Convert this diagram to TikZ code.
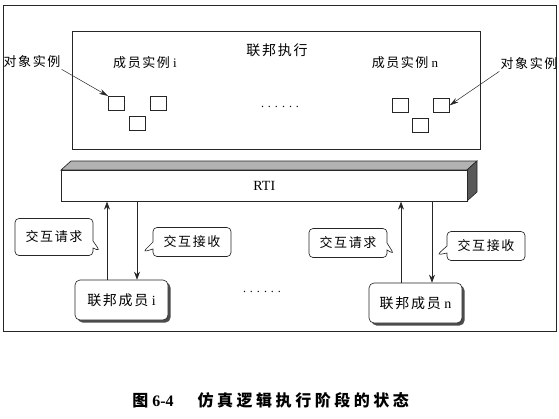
\documentclass[tikz,border=0pt]{standalone}
\usepackage{fontspec}
\setmainfont{Liberation Serif}
\newfontfamily\cjk[LetterSpace=12]{Noto Sans CJK SC}
\newfontfamily\cjkbig[LetterSpace=12]{Noto Sans CJK SC}
\newfontfamily\cjkcap[LetterSpace=22]{Noto Sans CJK SC}
\usetikzlibrary{shapes.callouts,shadows,arrows.meta}
\begin{document}
\begin{tikzpicture}[x=1pt,y=-1pt,
  line width=0.65pt, draw=black!85,
  lbl/.style={font=\fontsize{13}{15}\selectfont, inner sep=1pt},
  inst/.style={draw=black!85, minimum width=16pt, minimum height=14pt, inner sep=0pt, anchor=north west},
  bubble/.style={rectangle callout, draw=black!85, rounded corners=4pt, fill=white,
    minimum width=78pt, minimum height=29pt, inner sep=2pt, callout pointer width=7pt,
    font=\fontsize{13}{15}\selectfont},
  member/.style={draw=black!85, rounded corners=5pt, fill=white, minimum width=93pt, minimum height=40pt,
    font=\fontsize{14}{16}\selectfont,
    drop shadow={shadow xshift=2.5pt, shadow yshift=-2.5pt, fill=black!70, opacity=1}},
  flow/.style={-{Stealth[length=8pt,width=6pt]}, draw=black!85},
  point/.style={-{Stealth[length=9pt,width=5pt]}, draw=black!85, line width=0.5pt},
  dotrow/.style={font=\fontsize{12}{12}\selectfont, inner sep=0pt}
]
\useasboundingbox (0,0) rectangle (559,418);
% frames
\node[draw=black!85, anchor=north west, minimum width=553pt, minimum height=326pt, inner sep=0pt] (frame) at (3,5) {};
\node[draw=black!85, anchor=north west, minimum width=408pt, minimum height=118pt, inner sep=0pt] (fed) at (72,31) {};
\node[font=\fontsize{14}{16}\selectfont, inner sep=1pt] (title) at (277,50) {\cjkbig 联邦执行};
% member instances
\node[lbl] (mi) at (145,63) {{\cjk 成员实例} i};
\node[lbl] (mn) at (405,63) {{\cjk 成员实例} n};
\node[lbl] (objL) at (32,62) {\cjk 对象实例};
\node[lbl] (objR) at (529,64) {\cjk 对象实例};
\node[inst] (a1) at (108,96) {};
\node[inst] (a2) at (150,96) {};
\node[inst] (a3) at (129,116) {};
\node[inst] (b1) at (392,98) {};
\node[inst] (b2) at (433,98) {};
\node[inst] (b3) at (412,118) {};
\draw[point] (objL.south east) -- (a1.north west);
\draw[point] (objR.south west) -- (b2.east);
\node[dotrow] (dots1) at (280,107) {.\,\,.\,\,.\,\,.\,\,.\,\,.};
% RTI bar
\coordinate (t1) at (71,161);
\coordinate (t2) at (477,161);
\coordinate (t3) at (477,192);
\filldraw[fill=black!30, draw=black!85] (61,170) -- (t1) -- (t2) -- (467,170) -- cycle;
\filldraw[fill=black!65, draw=black!85] (467,170) -- (t2) -- (t3) -- (467,201) -- cycle;
\node[draw=black!85, fill=white, anchor=north west, minimum width=406pt, minimum height=31pt, inner sep=0pt,
  font=\fontsize{14}{16}\selectfont] (rti) at (61,170) {RTI};
% federates
\node[member] (fm1) at (121.5,300) {{\cjk 联邦成员} i};
\node[member] (fmn) at (415.5,303) {{\cjk 联邦成员} n};
\node[dotrow] (dots2) at (262,292) {.\,\,.\,\,.\,\,.\,\,.\,\,.};
\coordinate (u1) at (107,0);
\coordinate (d1) at (137,0);
\coordinate (u2) at (401,0);
\coordinate (d2) at (432,0);
\draw[flow] (u1 |- fm1.north) -- (u1 |- rti.south);
\draw[flow] (d1 |- rti.south) -- (d1 |- fm1.north);
\draw[flow] (u2 |- fmn.north) -- (u2 |- rti.south);
\draw[flow] (d2 |- rti.south) -- (d2 |- fmn.north);
% callouts
\node[bubble, minimum height=37pt, callout absolute pointer={(100,251)}] (req1) at (54,237) {\cjk 交互请求};
\node[bubble, callout absolute pointer={(143,252)}] (rcv1) at (192,242) {\cjk 交互接收};
\node[bubble, callout absolute pointer={(394,254)}] (req2) at (348,243) {\cjk 交互请求};
\node[bubble, callout absolute pointer={(437,255)}] (rcv2) at (486,246) {\cjk 交互接收};
% caption
\node[font=\bfseries\fontsize{16}{18}\selectfont, anchor=west, inner sep=0pt] (cap) at (132,400)
  {{\cjk 图} 6-4\hspace{24pt}{\cjkcap 仿真逻辑执行阶段的状态}};
\end{tikzpicture}
\end{document}
